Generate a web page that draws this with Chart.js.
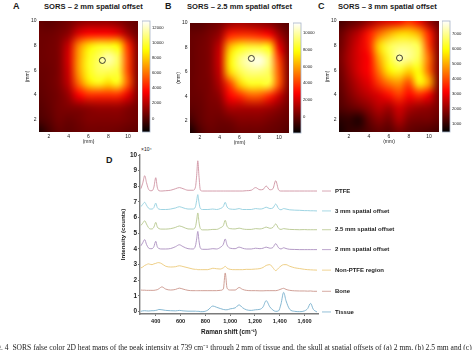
<!DOCTYPE html>
<html>
<head>
<meta charset="utf-8">
<script src="https://cdn.jsdelivr.net/npm/chart.js@4"></script>
<style>
html, body { margin: 0; padding: 0; background: #fff; }
body { position: relative; width: 474px; height: 350px; overflow: hidden; font-family: "Liberation Sans", sans-serif; color: #1a1a1a; filter: blur(0.3px); }
canvas { position: absolute; }
.txt { position: absolute; white-space: nowrap; font-weight: bold; }
.letter { font-size: 9px; top: 1px; }
.title { font-size: 7.6px; top: 2px; }
</style>
</head>
<body>
<div class="txt letter" style="left:13px">A</div>
<div class="txt title" style="left:44px">SORS – 2 mm spatial offset</div>
<div class="txt letter" style="left:165px">B</div>
<div class="txt title" style="left:187px">SORS – 2.5 mm spatial offset</div>
<div class="txt letter" style="left:318px">C</div>
<div class="txt title" style="left:338px">SORS – 3 mm spatial offset</div>
<div class="txt letter" style="left:106px;top:155px">D</div>
<div class="txt" style="left:141px;top:146px;font-size:5px;font-weight:normal">×10⁴</div>

<canvas id="heatA"></canvas><canvas id="barA"></canvas>
<canvas id="heatB"></canvas><canvas id="barB"></canvas>
<canvas id="heatC"></canvas><canvas id="barC"></canvas>
<canvas id="spectra"></canvas>
<canvas id="caption"></canvas>

<script>
// heat map axes
const gridX = [1, 2, 3, 4, 5, 6, 7, 8, 9, 10, 11];
const gridY = [10, 9, 8, 7, 6, 5, 4, 3, 2, 1];
const mapTicksX = [2, 4, 6, 8, 10];
const mapTicksY = [2, 4, 6, 8, 10];

// counts per grid node, rows from y=10 down to y=1
const heatA = [
    [300, 100, 300, 600, 1000, 1200, 1200, 1200, 900, 500, 300],
    [500, 500, 700, 1200, 2800, 3500, 3500, 3500, 3000, 1500, 500],
    [500, 600, 900, 2500, 6500, 8500, 9500, 9500, 9000, 4500, 900],
    [500, 600, 900, 2800, 7000, 9500, 10500, 11800, 10500, 5000, 900],
    [400, 500, 900, 2600, 7000, 9500, 10500, 10500, 10000, 5000, 900],
    [300, 500, 900, 2300, 6000, 8500, 9500, 8500, 9500, 5500, 900],
    [200, 400, 700, 1500, 3500, 4500, 4500, 4500, 4500, 3000, 900],
    [0, 300, 700, 900, 1000, 1200, 1400, 1400, 1400, 1000, 600],
    [-200, 100, 600, 400, 600, 900, 900, 900, 900, 700, 500],
    [-1200, -300, 300, 200, 400, 600, 600, 600, 500, 300, 200]
];
const heatB = [
    [-300, -300, 0, 300, 900, 1200, 1000, 800, 500, 0, -300],
    [0, 100, 400, 1000, 3500, 3800, 3800, 3500, 3000, 1200, 0],
    [0, 200, 500, 1800, 6500, 8000, 8500, 8500, 8000, 2500, 200],
    [0, 200, 500, 2000, 7500, 9500, 10500, 11000, 9500, 4000, 300],
    [0, 200, 500, 1800, 7000, 8800, 9500, 9500, 9000, 4500, 400],
    [0, 200, 400, 1400, 4000, 6800, 8200, 8200, 8500, 4500, 400],
    [0, 100, 400, 800, 2800, 3500, 4500, 4500, 3500, 1800, 300],
    [-200, 0, 300, 400, 1200, 1200, 1200, 1200, 1000, 600, 100],
    [-700, -100, 200, 100, 200, 500, 500, 500, 300, 100, -100],
    [-1600, -500, 0, -100, -100, 100, 100, 100, 0, -100, -400]
];
const heatC = [
    [1200, 1400, 1600, 2000, 2500, 2800, 3000, 3600, 3000, 2000, 1500],
    [1500, 2000, 2500, 3400, 4300, 5000, 5500, 5500, 5000, 3500, 1800],
    [1600, 2200, 2800, 3500, 5500, 6500, 6800, 6800, 6500, 3800, 1800],
    [1700, 2300, 2800, 3200, 5000, 6300, 7200, 7000, 6500, 4300, 1800],
    [1600, 2200, 2800, 3200, 4500, 5800, 6200, 5500, 6000, 4200, 1800],
    [1500, 2000, 2500, 2900, 3800, 4500, 4800, 4000, 6000, 5000, 1700],
    [1400, 1800, 2200, 2500, 2800, 3300, 3800, 3200, 3600, 3000, 1700],
    [1300, 1500, 1700, 2000, 2400, 2200, 2700, 2300, 2100, 2000, 1700],
    [900, 1000, 800, 1500, 1900, 1700, 2300, 1800, 1700, 1700, 1500],
    [700, 1000, 1100, 1300, 1500, 1400, 1700, 1500, 1400, 1300, 1200]
];

// colour bar ticks
const barTicksA = [0, 2000, 4000, 6000, 8000, 10000, 12000];
const barTicksB = [0, 2000, 4000, 6000, 8000, 10000];
const barTicksC = [1000, 2000, 3000, 4000, 5000, 6000, 7000];

// spectra
const ramanShift = [
    280, 295, 311, 325, 340, 355, 370, 385, 400, 412,
    425, 450, 480, 520, 560, 590, 620, 660, 700, 720,
    730, 739, 748, 760, 780, 820, 860, 890, 920, 945,
    960, 975, 1000, 1040, 1072, 1100, 1130, 1170, 1205, 1240,
    1265, 1290, 1320, 1345, 1367, 1390, 1410, 1431, 1450, 1480,
    1520, 1560, 1600, 1625, 1648, 1670, 1700
];
const ptfe = [
    7.85, 8.2, 8.68, 8.25, 7.85, 7.72, 7.72, 7.95, 8.55, 7.95,
    7.72, 7.7, 7.72, 7.75, 7.85, 7.92, 7.85, 7.75, 7.75, 7.95,
    8.7, 9.63, 8.7, 7.75, 7.7, 7.7, 7.7, 7.7, 7.7, 7.7,
    7.7, 7.7, 7.7, 7.7, 7.7, 7.7, 7.72, 7.75, 7.92, 7.78,
    7.8, 8.02, 7.78, 7.85, 8.36, 7.78, 7.7, 7.7, 7.7, 7.7,
    7.7, 7.7, 7.7, 7.7, 7.7, 7.7, 7.7
];
const offset3 = [
    6.7, 6.85, 6.98, 6.8, 6.62, 6.55, 6.55, 6.65, 6.93, 6.65,
    6.55, 6.52, 6.52, 6.55, 6.62, 6.7, 6.63, 6.55, 6.55, 6.7,
    7.1, 7.47, 7.0, 6.58, 6.52, 6.52, 6.55, 6.52, 6.58, 6.72,
    6.98, 6.68, 6.55, 6.53, 6.58, 6.52, 6.52, 6.52, 6.58, 6.55,
    6.58, 6.67, 6.58, 6.62, 6.87, 6.58, 6.5, 6.58, 6.55, 6.5,
    6.48, 6.47, 6.45, 6.45, 6.44, 6.44, 6.43
];
const offset25 = [
    5.5, 5.65, 5.8, 5.6, 5.38, 5.28, 5.28, 5.4, 5.7, 5.42,
    5.3, 5.27, 5.27, 5.3, 5.38, 5.47, 5.4, 5.28, 5.27, 5.42,
    5.85, 6.3, 5.75, 5.3, 5.22, 5.22, 5.25, 5.25, 5.35, 5.5,
    5.83, 5.45, 5.3, 5.28, 5.33, 5.28, 5.25, 5.25, 5.3, 5.28,
    5.32, 5.4, 5.32, 5.38, 5.6, 5.32, 5.25, 5.3, 5.28, 5.25,
    5.24, 5.23, 5.24, 5.23, 5.23, 5.23, 5.23
];
const offset2 = [
    4.2, 4.4, 4.6, 4.3, 4.08, 4.02, 4.02, 4.15, 4.49, 4.15,
    4.03, 4.0, 4.0, 4.03, 4.15, 4.27, 4.15, 4.02, 4.0, 4.2,
    4.65, 5.12, 4.55, 4.05, 3.98, 3.98, 4.02, 4.0, 4.1, 4.3,
    4.64, 4.25, 4.05, 4.02, 4.12, 4.05, 4.0, 4.0, 4.05, 4.02,
    4.05, 4.12, 4.05, 4.1, 4.34, 4.08, 4.0, 4.08, 4.03, 3.98,
    3.97, 3.96, 3.96, 3.96, 3.96, 3.96, 3.96
];
const nonPtfe = [
    2.79, 2.85, 2.95, 3.0, 3.05, 3.02, 3.0, 3.05, 3.08, 3.12,
    3.13, 3.05, 2.9, 2.85, 2.87, 2.93, 2.88, 2.8, 2.72, 2.7,
    2.7, 2.68, 2.68, 2.68, 2.68, 2.68, 2.77, 2.74, 2.72, 2.8,
    2.89, 2.78, 2.7, 2.68, 2.68, 2.68, 2.7, 2.7, 2.72, 2.75,
    2.82, 2.95, 3.0, 2.8, 2.62, 2.78, 2.92, 3.0, 3.0, 2.9,
    2.8, 2.75, 2.7, 2.68, 2.67, 2.66, 2.65
];
const bone = [
    1.38, 1.37, 1.37, 1.36, 1.36, 1.36, 1.36, 1.36, 1.38, 1.4,
    1.46, 1.58, 1.44, 1.38, 1.42, 1.5, 1.44, 1.36, 1.34, 1.34,
    1.34, 1.34, 1.34, 1.34, 1.34, 1.34, 1.34, 1.34, 1.36, 1.45,
    2.47, 1.5, 1.38, 1.38, 1.54, 1.42, 1.36, 1.34, 1.34, 1.33,
    1.33, 1.34, 1.34, 1.34, 1.34, 1.38, 1.44, 1.49, 1.42, 1.36,
    1.33, 1.32, 1.32, 1.31, 1.32, 1.3, 1.3
];
const tissue = [
    0.02, 0.05, 0.06, 0.05, 0.04, 0.05, 0.06, 0.06, 0.08, 0.1,
    0.14, 0.12, 0.08, 0.06, 0.05, 0.08, 0.05, 0.03, 0.03, 0.03,
    0.02, 0.02, 0.02, 0, 0, 0.1, 0.36, 0.28, 0.2, 0.14,
    0.12, 0.12, 0.18, 0.24, 0.43, 0.25, 0.12, 0.08, 0.12, 0.15,
    0.3, 0.7, 0.3, 0.1, 0.02, 0.05, 0.5, 1.23, 0.7, 0.15,
    0.02, 0, 0.05, 0.2, 0.53, 0.15, -0.02
];
const spectraTicksX = [400, 600, 800, 1000, 1200, 1400, 1600];
const spectraTicksY = [0, 1, 2, 3, 4, 5, 6, 7, 8, 9, 10];

const inkColor = '#1a1a1a';
const sans = 'Liberation Sans';
const captionText = 'Fig. 4  SORS false color 2D heat maps of the peak intensity at 739 cm⁻¹ through 2 mm of tissue and, the skull at spatial offsets of (a) 2 mm, (b) 2.5 mm and (c)';

// matlab style "hot" colours
function hotColor(t) {
    t = Math.max(0, Math.min(1, t));
    const r = Math.min(1, t / 0.365);
    const g = Math.max(0, Math.min(1, (t - 0.365) / 0.375));
    const b = Math.max(0, Math.min(1, (t - 0.74) / 0.26));
    return [r * 255, g * 255, b * 255];
}

function useTicks(list) {
    return scale => { scale.ticks = list.map(value => ({ value })); };
}

function place(id, left, top, width, height) {
    const canvas = document.getElementById(id);
    canvas.width = width;
    canvas.height = height;
    canvas.style.left = left + 'px';
    canvas.style.top = top + 'px';
    return canvas;
}

// smooth heat image, placed through the chart's scales
const heatPlugin = {
    id: 'heatImage',
    beforeDatasetsDraw(chart, args, opts) {
        const rows = opts.grid;
        const off = document.createElement('canvas');
        off.width = gridX.length;
        off.height = gridY.length;
        const offCtx = off.getContext('2d');
        const img = offCtx.createImageData(off.width, off.height);
        rows.forEach((row, j) => row.forEach((value, i) => {
            const c = hotColor((value - opts.min) / (opts.max - opts.min));
            const k = (j * off.width + i) * 4;
            img.data[k] = c[0];
            img.data[k + 1] = c[1];
            img.data[k + 2] = c[2];
            img.data[k + 3] = 255;
        }));
        offCtx.putImageData(img, 0, 0);
        const { x, y } = chart.scales;
        const left = x.getPixelForValue(gridX[0]);
        const right = x.getPixelForValue(gridX[gridX.length - 1]);
        const top = y.getPixelForValue(gridY[0]);
        const bottom = y.getPixelForValue(gridY[gridY.length - 1]);
        const ctx = chart.ctx;
        ctx.save();
        ctx.imageSmoothingEnabled = true;
        ctx.imageSmoothingQuality = 'high';
        ctx.drawImage(off, 0.5, 0.5, off.width - 1, off.height - 1, left, top, right - left, bottom - top);
        ctx.restore();
    }
};

// gradient of the colour bar
const barPlugin = {
    id: 'barFill',
    beforeDatasetsDraw(chart) {
        const { ctx, chartArea } = chart;
        const grad = ctx.createLinearGradient(0, chartArea.bottom, 0, chartArea.top);
        for (let i = 0; i <= 40; i++) {
            const c = hotColor(i / 40);
            grad.addColorStop(i / 40, `rgb(${c[0]},${c[1]},${c[2]})`);
        }
        ctx.save();
        ctx.fillStyle = grad;
        ctx.fillRect(chartArea.left, chartArea.top, chartArea.width, chartArea.height);
        ctx.strokeStyle = '#a8b4c8';
        ctx.lineWidth = 0.8;
        ctx.strokeRect(chartArea.left, chartArea.top, chartArea.width, chartArea.height);
        ctx.restore();
    }
};

function heatChart(id, grid, min, max, spot, box) {
    place(id, box.x - 14, box.y - 6, box.w + 18, box.h + 19);
    return new Chart(document.getElementById(id), {
        type: 'scatter',
        data: {
            datasets: [{
                data: [spot],
                pointRadius: 3,
                pointBackgroundColor: 'rgba(255,255,255,0.25)',
                pointBorderColor: '#111',
                pointBorderWidth: 0.8
            }]
        },
        options: {
            responsive: false,
            animation: false,
            layout: { padding: { top: 6, right: 4 }, autoPadding: false },
            plugins: {
                legend: { display: false },
                tooltip: { enabled: false },
                heatImage: { grid, min, max }
            },
            scales: {
                x: {
                    type: 'linear',
                    min: gridX[0],
                    max: gridX[gridX.length - 1],
                    afterBuildTicks: useTicks(mapTicksX),
                    afterFit: s => { s.height = 13; },
                    grid: { display: false, drawTicks: false },
                    border: { display: false },
                    ticks: { color: inkColor, font: { family: sans, size: 5 }, padding: 2, maxRotation: 0 },
                    title: { display: true, text: '(mm)', color: inkColor, font: { family: sans, size: 5 }, padding: { top: 1, bottom: 0 } }
                },
                y: {
                    type: 'linear',
                    min: gridY[gridY.length - 1],
                    max: gridY[0],
                    afterBuildTicks: useTicks(mapTicksY),
                    afterFit: s => { s.width = 14; },
                    grid: { display: false, drawTicks: false },
                    border: { display: false },
                    ticks: { color: inkColor, font: { family: sans, size: 5 }, padding: 2.5 },
                    title: { display: true, text: '(mm)', color: inkColor, font: { family: sans, size: 5 }, padding: { top: 0, bottom: 1 } }
                }
            }
        },
        plugins: [heatPlugin]
    });
}

function barChart(id, min, max, tickList, box) {
    place(id, box.x, box.y - 5, box.w + 16, box.h + 10);
    return new Chart(document.getElementById(id), {
        type: 'bar',
        data: { labels: [''], datasets: [{ data: [null] }] },
        options: {
            responsive: false,
            animation: false,
            layout: { padding: { top: 5, bottom: 5 }, autoPadding: false },
            plugins: { legend: { display: false }, tooltip: { enabled: false } },
            scales: {
                x: { display: false },
                y: {
                    position: 'right',
                    min,
                    max,
                    afterBuildTicks: useTicks(tickList),
                    afterFit: s => { s.width = 16; },
                    grid: { display: false, drawTicks: false },
                    border: { display: false },
                    ticks: { color: inkColor, font: { family: sans, size: 4.2 }, padding: 2, callback: value => String(value) }
                }
            }
        },
        plugins: [barPlugin]
    });
}

heatChart('heatA', heatA, -1800, 12900, { x: 7.4, y: 6.8 }, { x: 39, y: 21, w: 99, h: 111 });
barChart('barA', -1800, 12900, barTicksA, { x: 142, y: 21, w: 8, h: 111 });
heatChart('heatB', heatB, -1940, 11200, { x: 7.2, y: 7.1 }, { x: 190, y: 23, w: 99, h: 110 });
barChart('barB', -1940, 11200, barTicksB, { x: 293, y: 23, w: 8, h: 110 });
heatChart('heatC', heatC, 470, 7820, { x: 7.05, y: 7.0 }, { x: 339, y: 21, w: 100, h: 111 });
barChart('barC', 470, 7820, barTicksC, { x: 442, y: 21, w: 8, h: 111 });

// labelled stubs at the end of every spectrum
const endLabels = {
    id: 'endLabels',
    afterDatasetsDraw(chart) {
        const { ctx, chartArea, scales } = chart;
        ctx.save();
        chart.data.datasets.forEach(ds => {
            const y = scales.y.getPixelForValue(ds.data[ds.data.length - 1].y);
            ctx.strokeStyle = ds.borderColor;
            ctx.lineWidth = 0.8;
            ctx.beginPath();
            ctx.moveTo(chartArea.right + 4, y);
            ctx.lineTo(chartArea.right + 13, y);
            ctx.stroke();
            ctx.fillStyle = inkColor;
            ctx.font = `bold 6px "${sans}"`;
            ctx.textBaseline = 'middle';
            ctx.fillText(ds.label, chartArea.right + 17, y);
        });
        ctx.restore();
    }
};

function series(label, values, color) {
    return {
        label,
        data: values.map((v, i) => ({ x: ramanShift[i], y: v })),
        borderColor: color,
        borderWidth: 0.9,
        pointRadius: 0,
        cubicInterpolationMode: 'monotone'
    };
}

place('spectra', 110, 146, 364, 190);
new Chart(document.getElementById('spectra'), {
    type: 'line',
    data: {
        datasets: [
            series('PTFE', ptfe, '#cf93a3'),
            series('3 mm spatial offset', offset3, '#93cfdf'),
            series('2.5 mm spatial offset', offset25, '#b7c78d'),
            series('2 mm spatial offset', offset2, '#ab8fc0'),
            series('Non-PTFE region', nonPtfe, '#ecc979'),
            series('Bone', bone, '#cb958b'),
            series('Tissue', tissue, '#78b0cd')
        ]
    },
    options: {
        responsive: false,
        animation: false,
        layout: { padding: { left: 10, top: 9, right: 156, bottom: 0 }, autoPadding: false },
        plugins: { legend: { display: false }, tooltip: { enabled: false } },
        scales: {
            x: {
                type: 'linear',
                min: 273,
                max: 1708,
                afterBuildTicks: useTicks(spectraTicksX),
                afterFit: s => { s.height = 22; },
                grid: { drawOnChartArea: false, tickLength: 2, tickColor: '#7a7a7a' },
                border: { color: '#7a7a7a', width: 1.4 },
                ticks: { color: inkColor, font: { family: sans, size: 5.6, weight: 'bold' }, padding: 2, maxRotation: 0 },
                title: { display: true, text: 'Raman shift (cm⁻¹)', color: inkColor, font: { family: sans, size: 6.4, weight: 'bold' }, padding: { top: 2, bottom: 0 } }
            },
            y: {
                type: 'linear',
                min: -0.15,
                max: 10,
                afterBuildTicks: useTicks(spectraTicksY),
                afterFit: s => { s.width = 20; },
                grid: { drawOnChartArea: false, tickLength: 2, tickColor: '#7a7a7a' },
                border: { color: '#7a7a7a', width: 1.4 },
                ticks: { color: inkColor, font: { family: sans, size: 6.4, weight: 'bold' }, padding: 1 },
                title: { display: true, text: 'Intensity (counts)', color: inkColor, font: { family: sans, size: 6.2, weight: 'bold' }, padding: { top: 0, bottom: 0 } }
            }
        }
    },
    plugins: [endLabels]
});

// caption under the figure, cut by the page edge like the original crop
const captionCtx = place('caption', 0, 341, 474, 9).getContext('2d');
captionCtx.fillStyle = '#222';
captionCtx.font = '7.55px "Liberation Serif"';
captionCtx.textBaseline = 'alphabetic';
captionCtx.fillText(captionText, -9, 8.5);
</script>
</body>
</html>
